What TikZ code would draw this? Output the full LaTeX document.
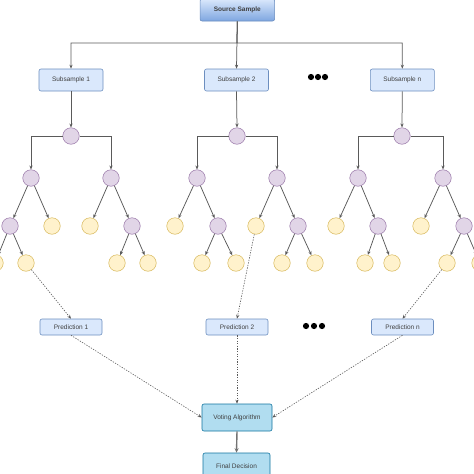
\documentclass[tikz,border=0pt]{standalone}
\usepackage{fontspec}
\setmainfont{Liberation Sans}
\usetikzlibrary{arrows.meta}
\definecolor{bfill}{HTML}{DAE8FC}
\definecolor{bdraw}{HTML}{6C8EBF}
\definecolor{bdark}{HTML}{7EA6E0}
\definecolor{pfill}{HTML}{E1D5E7}
\definecolor{pdraw}{HTML}{9673A6}
\definecolor{yfill}{HTML}{FFF2CC}
\definecolor{ydraw}{HTML}{D6B656}
\definecolor{vfill}{HTML}{B1DDF0}
\definecolor{vdraw}{HTML}{10739E}
\definecolor{ln}{HTML}{5A5A5A}
\tikzset{
  box/.style={draw=bdraw, fill=bfill, rounded corners=2pt, line width=0.6pt,
    font=\fontsize{6.5}{7}\selectfont, text=black!75, inner sep=0pt, anchor=center},
  srcbox/.style={box, top color=bfill, bottom color=bdark, font=\fontsize{6.5}{7}\selectfont\bfseries,
    minimum width=74.5pt, minimum height=22pt},
  subbox/.style={box, minimum width=64pt, minimum height=22pt},
  predbox/.style={box, minimum width=62pt, minimum height=16pt},
  votebox/.style={box, draw=vdraw, fill=vfill, minimum width=70pt, minimum height=27pt},
  pc/.style={circle, draw=pdraw, fill=pfill, minimum size=16.5pt, inner sep=0pt, line width=0.5pt},
  yc/.style={circle, draw=ydraw, fill=yfill, minimum size=16.5pt, inner sep=0pt, line width=0.5pt},
  arr/.style={draw=ln, line width=0.75pt, -{Stealth[length=4pt,width=3.2pt]}},
  dsh/.style={draw=ln, line width=0.6pt, dash pattern=on 1.3pt off 1.3pt, -{Stealth[length=4pt,width=3.2pt]}},
  thick arr/.style={draw=black!55, line width=1.4pt, -{Stealth[length=4.5pt,width=4pt]}},
  dotc/.style={circle, fill=black, inner sep=0pt, minimum size=6.2pt}
}
\begin{document}
\begin{tikzpicture}[x=1pt,y=-1pt]
\useasboundingbox (0,0) rectangle (474,474);
% top boxes
\node[srcbox] (src) at (237.3,10) {Source Sample};
\node[subbox] (s1) at (71,80) {Subsample 1};
\node[subbox] (s2) at (236.5,80) {Subsample 2};
\node[subbox] (sn) at (402.3,80) {Subsample n};
\coordinate (j) at (237,43);
\draw[arr] (src.south) -- (j) -| (s1.north);
\draw[arr] (src.south) -- (s2.north);
\draw[arr] (src.south) -- (j) -| (sn.north);
\node[dotc] (d1) at (311,77) {};
\node[dotc] (d2) at (318,77) {};
\node[dotc] (d3) at (325,77) {};
% tree 1
\node[pc] (a0) at (71,136) {};
\node[pc] (a1) at (31,178) {};
\node[pc] (a2) at (111,178) {};
\node[pc] (a11) at (10,226) {};
\node[yc] (a12) at (52,226) {};
\node[yc] (a21) at (90,226) {};
\node[pc] (a22) at (132,226) {};
\node[yc] (a111) at (-5,263) {};
\node[yc] (a112) at (26,263) {};
\node[yc] (a221) at (117,263) {};
\node[yc] (a222) at (148,263) {};
% tree 2
\node[pc] (b0) at (237,136) {};
\node[pc] (b1) at (197,178) {};
\node[pc] (b2) at (277,178) {};
\node[yc] (b11) at (175,226) {};
\node[pc] (b12) at (218,226) {};
\node[yc] (b21) at (256,226) {};
\node[pc] (b22) at (298,226) {};
\node[yc] (b121) at (202,263) {};
\node[yc] (b122) at (236,263) {};
\node[yc] (b221) at (282,263) {};
\node[yc] (b222) at (315,263) {};
% tree 3
\node[pc] (c0) at (402,136) {};
\node[pc] (c1) at (358,178) {};
\node[pc] (c2) at (443,178) {};
\node[yc] (c11) at (336,226) {};
\node[pc] (c12) at (378,226) {};
\node[yc] (c21) at (421,226) {};
\node[pc] (c22) at (464,226) {};
\node[yc] (c121) at (365,263) {};
\node[yc] (c122) at (392,263) {};
\node[yc] (c221) at (447,263) {};
\node[yc] (c222) at (480,263) {};
% subsample -> root
\draw[arr] (s1.south) -- (a0.north);
\draw[arr] (s2.south) -- (b0.north);
\draw[arr] (sn.south) -- (c0.north);
% root -> level 2 (elbows)
\foreach \t in {a,b,c}{
  \draw[arr] (\t0.west) -| (\t1.north);
  \draw[arr] (\t0.east) -| (\t2.north);
}
% diagonal edges
\foreach \p/\c in {a1/a11,a1/a12,a2/a21,a2/a22,a11/a111,a11/a112,a22/a221,a22/a222,
                   b1/b11,b1/b12,b2/b21,b2/b22,b12/b121,b12/b122,b22/b221,b22/b222,
                   c1/c11,c1/c12,c2/c21,c2/c22,c12/c121,c12/c122,c22/c221,c22/c222}{
  \draw[arr] (\p) -- (\c);
}
% predictions
\node[predbox] (p1) at (71,327) {Prediction 1};
\node[predbox] (p2) at (237,327) {Prediction 2};
\node[predbox] (pn) at (402.5,327) {Prediction n};
\node[dotc] (e1) at (306,326) {};
\node[dotc] (e2) at (314,326) {};
\node[dotc] (e3) at (322,326) {};
\draw[dsh] (a112) -- (p1.north);
\draw[dsh] (b21) -- (p2.north);
\draw[dsh] (c221) -- (pn.north);
% voting
\node[votebox] (vote) at (237,417.5) {Voting Algorithm};
\node[votebox, minimum width=67pt] (fin) at (236.5,466.5) {Final Decision};
\draw[dsh] (p1.south) -- (vote.west);
\draw[dsh] (p2.south) -- (vote.north);
\draw[dsh] (pn.south) -- (vote.east);
\draw[thick arr] (vote.south) -- (fin.north);
\end{tikzpicture}
\end{document}
